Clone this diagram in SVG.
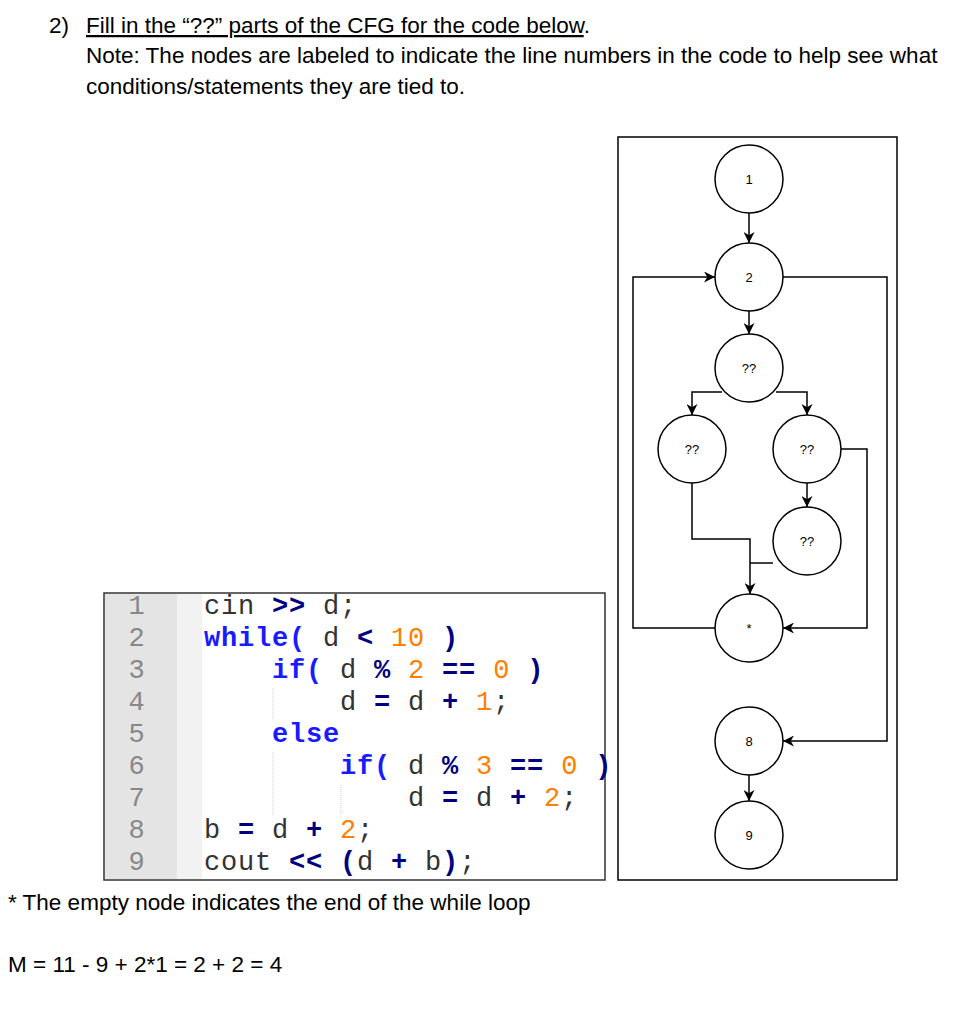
<svg xmlns="http://www.w3.org/2000/svg" width="961" height="1024" viewBox="0 0 961 1024">
<defs>
<marker id="ah" viewBox="0 0 10 10" refX="10" refY="5" markerWidth="11" markerHeight="11" markerUnits="userSpaceOnUse" orient="auto"><path d="M0,0 L10,5 L0,10 L3,5 Z" fill="#000"/></marker>
<style>
.t{font-family:"Liberation Sans",Arial,sans-serif;font-size:22.5px;fill:#000}
.n circle{fill:#fff;stroke:#000;stroke-width:1.5}
.n text{font-family:"Liberation Sans",Arial,sans-serif;font-size:13px;text-anchor:middle;fill:#000}
.e path{fill:none;stroke:#000;stroke-width:1.5;marker-end:url(#ah)}
.c{font-family:"Liberation Mono","Courier New",monospace;font-size:27px;letter-spacing:0.8px;fill:#333}
.ln{fill:#888;text-anchor:middle}
.k{fill:#1a1aff;font-weight:bold}
.num{fill:#ff8000}
.op{fill:#000080;font-weight:bold}
.g{stroke:#ccc;stroke-dasharray:1 1;stroke-width:1}
</style>
</defs>
<rect width="961" height="1024" fill="#fff"/>
<text class="t" x="49" y="33">2)</text>
<text class="t" x="86" y="33"><tspan text-decoration="underline">Fill in the “??” parts of the CFG for the code below</tspan>.</text>
<text class="t" x="86" y="63">Note: The nodes are labeled to indicate the line numbers in the code to help see what</text>
<text class="t" x="86" y="94">conditions/statements they are tied to.</text>

<g id="code">
<rect x="104" y="593" width="501" height="287" fill="#fff" stroke="#333" stroke-width="1.5"/>
<rect x="105" y="594" width="72" height="285" fill="#e4e4e4"/>
<rect x="177" y="594" width="25" height="285" fill="#f2f2f2"/>
<line class="g" x1="273" y1="688" x2="273" y2="720"/>
<line class="g" x1="273" y1="752" x2="273" y2="815"/>
<line class="g" x1="341" y1="785" x2="341" y2="815"/>
<g class="c ln">
<text x="137" y="614">1</text><text x="137" y="646">2</text><text x="137" y="678">3</text><text x="137" y="710">4</text><text x="137" y="742">5</text><text x="137" y="774">6</text><text x="137" y="806">7</text><text x="137" y="838">8</text><text x="137" y="870">9</text>
</g>
<text class="c" x="204" y="614" xml:space="preserve">cin <tspan class="op">&gt;&gt;</tspan> d;</text>
<text class="c" x="204" y="646" xml:space="preserve"><tspan class="k">while(</tspan> d <tspan class="op">&lt;</tspan> <tspan class="num">10</tspan> <tspan class="op">)</tspan></text>
<text class="c" x="272" y="678" xml:space="preserve"><tspan class="k">if(</tspan> d <tspan class="op">%</tspan> <tspan class="num">2</tspan> <tspan class="op">==</tspan> <tspan class="num">0</tspan> <tspan class="op">)</tspan></text>
<text class="c" x="340" y="710" xml:space="preserve">d <tspan class="op">=</tspan> d <tspan class="op">+</tspan> <tspan class="num">1</tspan>;</text>
<text class="c" x="272" y="742"><tspan class="k">else</tspan></text>
<text class="c" x="340" y="774" xml:space="preserve"><tspan class="k">if(</tspan> d <tspan class="op">%</tspan> <tspan class="num">3</tspan> <tspan class="op">==</tspan> <tspan class="num">0</tspan> <tspan class="op">)</tspan></text>
<text class="c" x="408" y="806" xml:space="preserve">d <tspan class="op">=</tspan> d <tspan class="op">+</tspan> <tspan class="num">2</tspan>;</text>
<text class="c" x="204" y="838" xml:space="preserve">b <tspan class="op">=</tspan> d <tspan class="op">+</tspan> <tspan class="num">2</tspan>;</text>
<text class="c" x="204" y="870" xml:space="preserve">cout <tspan class="op">&lt;&lt;</tspan> <tspan class="op">(</tspan>d <tspan class="op">+</tspan> b<tspan class="op">)</tspan>;</text>
</g>

<text class="t" x="8" y="910">* The empty node indicates the end of the while loop</text>
<text class="t" x="8" y="972">M = 11 - 9 + 2*1 = 2 + 2 = 4</text>

<rect id="frame" x="618" y="137" width="279" height="743" fill="none" stroke="#000" stroke-width="1.5"/>

<g class="e" id="edges">
<path d="M749,213 V243"/>
<path d="M749,311 V334"/>
<path d="M722,392 H692 V415"/>
<path d="M776,392 H807 V415"/>
<path d="M692,483 V539 H750 V594"/>
<path d="M807,483 V507"/>
<path d="M773,563 H750" style="marker-end:none"/>
<path d="M840,449 H867 V628 H783"/>
<path d="M715,628 H633 V277 H715"/>
<path d="M783,277 H887 V741 H783"/>
<path d="M749,775 V801"/>
</g>

<g class="n" id="n1"><circle cx="749" cy="179" r="34"/><text x="749" y="184">1</text></g>
<g class="n" id="n2"><circle cx="749" cy="277" r="34"/><text x="749" y="282">2</text></g>
<g class="n" id="n3"><circle cx="749" cy="368" r="34"/><text x="749" y="373">??</text></g>
<g class="n" id="n4"><circle cx="692" cy="449" r="34"/><text x="692" y="454">??</text></g>
<g class="n" id="n6"><circle cx="807" cy="449" r="34"/><text x="807" y="454">??</text></g>
<g class="n" id="n7"><circle cx="807" cy="541" r="34"/><text x="807" y="546">??</text></g>
<g class="n" id="nend"><circle cx="749" cy="628" r="34"/><text x="749" y="633">*</text></g>
<g class="n" id="n8"><circle cx="749" cy="741" r="34"/><text x="749" y="746">8</text></g>
<g class="n" id="n9"><circle cx="749" cy="835" r="34"/><text x="749" y="840">9</text></g>
</svg>
